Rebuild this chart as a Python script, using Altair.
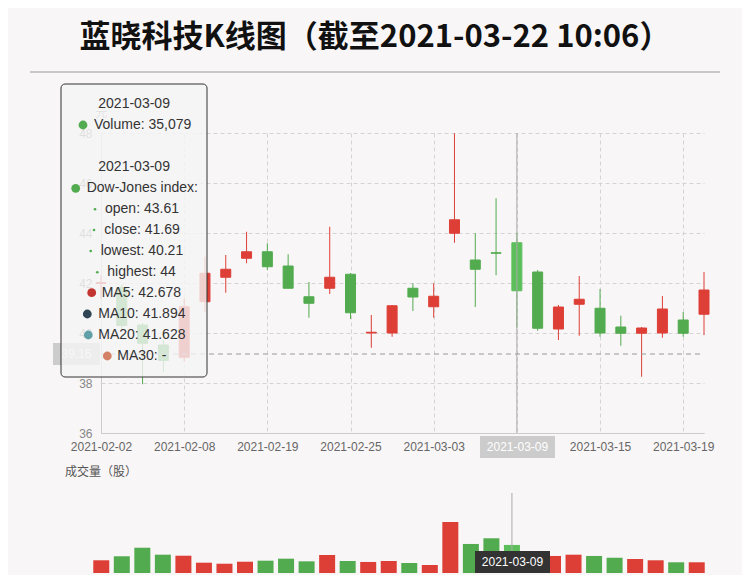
import altair as alt
import pandas as pd

# ---------------- data ----------------
dates = ["2021-02-02", "2021-02-03", "2021-02-04", "2021-02-05", "2021-02-08", "2021-02-09", "2021-02-10",
         "2021-02-18", "2021-02-19", "2021-02-22", "2021-02-23", "2021-02-24", "2021-02-25", "2021-02-26",
         "2021-03-01", "2021-03-02", "2021-03-03", "2021-03-04", "2021-03-05", "2021-03-08", "2021-03-09",
         "2021-03-10", "2021-03-11", "2021-03-12", "2021-03-15", "2021-03-16", "2021-03-17", "2021-03-18",
         "2021-03-19", "2021-03-22"]
opens = [41.98, 41.82, 40.32, 39.52, 39.03, 41.25, 42.23, 42.99, 43.25, 42.68,
         41.45, 41.79, 42.35, 40.00, 40.00, 41.79, 41.05, 43.99, 42.92, 43.21,
         43.61, 42.44, 40.16, 41.15, 40.99, 40.24, 39.99, 40.00, 40.52, 40.75]
closes = [42.02, 40.30, 39.59, 38.90, 41.05, 42.39, 42.55, 43.25, 42.65, 41.79,
          41.19, 42.23, 40.81, 40.03, 41.09, 41.44, 41.47, 44.53, 42.55, 43.19,
          41.69, 40.19, 41.04, 41.35, 40.00, 39.99, 40.20, 40.96, 39.99, 41.72]
lows = [41.35, 40.15, 37.95, 38.45, 38.85, 40.85, 41.61, 42.79, 42.52, 41.79,
        40.61, 41.56, 40.56, 39.41, 39.85, 40.88, 40.61, 43.61, 41.04, 42.31,
        40.21, 40.09, 39.72, 39.89, 39.85, 39.49, 38.25, 39.81, 39.85, 39.92]
highs = [42.30, 41.95, 40.40, 39.72, 41.39, 43.05, 43.12, 44.05, 43.59, 43.15,
         42.04, 44.25, 42.40, 40.72, 41.12, 41.99, 41.99, 47.99, 43.99, 45.39,
         44.00, 42.52, 41.12, 42.28, 41.76, 40.69, 40.24, 41.48, 40.84, 42.44]
volumes = [15900, 20900, 31600, 22900, 21600, 12900, 11600, 14100, 15400, 17900,
           14600, 22500, 15000, 13800, 15000, 12500, 10000, 63800, 36300, 43400,
           35079, 26000, 21300, 22900, 21300, 19100, 17500, 15900, 13400, 13400]
ma_names = ["MA5", "MA10", "MA20", "MA30"]
ma_values = ["42.678", "41.894", "41.628", "-"]
y_ticks = [36, 38, 40, 42, 44, 46, 48]
focus_date = "2021-03-09"
pointer_price = 39.16
title_text = "蓝晓科技K线图（截至2021-03-22 10:06）"
volume_title = "成交量（股）"
series_name = "Dow-Jones index"

# ---------------- styles ----------------
RED = "#dd3f37"
GREEN = "#52ab4f"
GREEN_HI = "#5dbf5b"
BG = "#f9f6f7"
FONT = "Liberation Sans"
CJK = "Noto Sans CJK SC"
MA_COLORS = ["#c23531", "#2f4554", "#61a0a8", "#d48265"]

fi = dates.index(focus_date)
n = len(dates)

rows = []
for i in range(n):
    up = closes[i] >= opens[i]
    col = RED if up else GREEN
    if i == fi:
        col = GREEN_HI if not up else col
    rows.append(dict(idx=i, date=dates[i], open=opens[i], close=closes[i],
                     low=lows[i], high=highs[i], volume=volumes[i], col=col))
df = pd.DataFrame(rows)
one = pd.DataFrame({"k": [0]})

label_expr = "[" + ",".join("'%s'" % d for d in dates) + "][datum.value]"

x_scale = alt.Scale(domain=[0, n - 1], nice=False, zero=False, padding=0)
y_scale = alt.Scale(domain=[36, 48], nice=False, zero=False, padding=0)
x_axis = alt.Axis(values=list(range(0, n, 4)), labelExpr=label_expr, title=None, grid=True,
                  gridDash=[4, 3], gridColor="#d4d4d4", domainColor="#cccccc", ticks=False,
                  labelColor="#666666", labelFontSize=12, labelPadding=8, labelFont=FONT,
                  labelFlush=False, labelOverlap=False)
y_axis = alt.Axis(values=y_ticks, title="元", titleAngle=0, titleX=0, titleY=-21, titleAlign="center",
                  titleBaseline="middle", titleColor="#999999", titleFontWeight="normal",
                  titleFontSize=12, titleFont=CJK, grid=True, gridDash=[4, 3], gridColor="#d4d4d4",
                  domainColor="#cccccc", ticks=False, labelColor="#888888", labelPadding=9,
                  labelFontSize=12, labelFont=FONT)


def X(field=None, datum=None):
    if datum is not None:
        return alt.X(datum=datum, type="quantitative", scale=x_scale, axis=x_axis)
    return alt.X(field, type="quantitative", scale=x_scale, axis=x_axis)


def Y(field=None, datum=None):
    if datum is not None:
        return alt.Y(datum=datum, type="quantitative", scale=y_scale, axis=y_axis)
    return alt.Y(field, type="quantitative", scale=y_scale, axis=y_axis)


base = alt.Chart(df)
wicks = base.mark_rule(strokeWidth=1).encode(
    x=X("idx"), y=Y("low"), y2=alt.Y2("high"), color=alt.Color("col:N", scale=None))
bodies = base.mark_bar(size=10, strokeWidth=1).encode(
    x=X("idx"), y=Y("open"), y2=alt.Y2("close"),
    color=alt.Color("col:N", scale=None), stroke=alt.Stroke("col:N", scale=None))
vline = alt.Chart(one).mark_rule(color="#aaaaaa", strokeWidth=1).encode(
    x=X(datum=fi), y=Y(datum=48), y2=alt.Y2(datum=36))
hline = alt.Chart(one).mark_rule(color="#999999", strokeWidth=1, strokeDash=[5, 4]).encode(
    x=X(datum=0), x2=alt.X2(datum=n - 1), y=Y(datum=pointer_price))
candle = alt.layer(wicks, bodies, vline, hline)

vx_scale = alt.Scale(domain=[-0.5, n - 0.5], range=[-10, 606], nice=False, zero=False, padding=0)
vy_scale = alt.Scale(domain=[0, 100000], range=[440, 360], nice=False, padding=0)
vbars = base.mark_bar(size=16).encode(
    x=alt.X("idx:Q", scale=vx_scale, axis=None),
    y=alt.Y("volume:Q", scale=vy_scale, axis=None),
    color=alt.Color("col:N", scale=None))
vvline = alt.Chart(one).mark_rule(color="#aaaaaa", strokeWidth=1).encode(
    x=alt.X(datum=fi, type="quantitative", scale=vx_scale, axis=None),
    y=alt.Y(datum=100000, type="quantitative", scale=vy_scale, axis=None),
    y2=alt.Y2(datum=0))
volume = alt.layer(vbars, vvline)


def box(x1, x2, y1, y2, **kw):
    return alt.Chart(one).mark_rect(**kw).encode(
        x=alt.value(x1), x2=alt.value(x2), y=alt.value(y1), y2=alt.value(y2))


def txt(text, x, y, **kw):
    return alt.Chart(one).mark_text(text=text, **kw).encode(x=alt.value(x), y=alt.value(y))


def dot(x, y, size, color):
    return alt.Chart(one).mark_circle(size=size, opacity=1, color=color).encode(
        x=alt.value(x), y=alt.value(y))


overlay = [
    # title + separator
    txt(title_text, 274, -95, font=CJK, fontSize=31, fontWeight="bold", color="#111111",
        align="center", baseline="middle"),
    alt.Chart(one).mark_rule(color="#c8c8c8", strokeWidth=2).encode(
        x=alt.value(-71), x2=alt.value(619), y=alt.value(-61)),
    # volume caption
    txt(volume_title, -36, 339, font=CJK, fontSize=12, color="#555555", align="left", baseline="middle"),
    # axis pointer labels
    box(-48, -1, 210, 232, fill="#cccccc"),
    txt("%.2f" % pointer_price, -24.5, 221, font=FONT, fontSize=12, color="#ffffff",
        align="center", baseline="middle"),
    box(379, 454, 303, 325, fill="#cccccc"),
    txt(focus_date, 416.5, 314, font=FONT, fontSize=12, color="#ffffff", align="center", baseline="middle"),
    box(374, 449, 418, 440, fill="#333333"),
    txt(focus_date, 411.5, 429, font=FONT, fontSize=12, color="#ffffff", align="center", baseline="middle"),
    # tooltip box
    box(-40, 106, -49, 244, fill="#f5f5f5", fillOpacity=0.8, stroke="#333333", strokeWidth=1,
        cornerRadius=4),
]

tfont = dict(font=FONT, fontSize=14, color="#333333", align="left", baseline="middle")
o, c, lo, hi = opens[fi], closes[fi], lows[fi], highs[fi]
fmt = lambda v: ("%g" % v)
tip_rows = [
    (focus_date, None, None, -2.7, -29, None),
    ("Volume: {:,}".format(volumes[fi]), -18, 78, -7, -8, GREEN),
    (focus_date, None, None, -2.7, 34.3, None),
    (series_name + ":", -25.3, 78, -14.3, 55.3, GREEN),
    ("open: " + fmt(o), -6, 7, 4, 76.3, GREEN),
    ("close: " + fmt(c), -7, 7, 3.3, 97, GREEN),
    ("lowest: " + fmt(lo), -10.3, 7, -0.3, 118, GREEN),
    ("highest: " + fmt(hi), -3.7, 7, 6.3, 139.3, GREEN),
]
ma_pos = [(-9.3, 0.7, 159.7), (-13.7, -2.7, 181), (-12.7, -2.7, 202), (6.3, 16.3, 223)]
for (name, val, colr, (dx, tx, ty)) in zip(ma_names, ma_values, MA_COLORS, ma_pos):
    tip_rows.append(("%s: %s" % (name, val), dx, 78, tx, ty, colr))

for text, dx, dsize, tx, ty, colr in tip_rows:
    if dx is not None:
        overlay.append(dot(dx, ty, dsize, colr))
    overlay.append(txt(text, tx, ty, **tfont))

chart = alt.layer(candle, volume, *overlay).resolve_scale(
    x="independent", y="independent"
).properties(
    width=603, height=300,
    autosize=alt.AutoSizeParams(type="none"),
    padding={"left": 93, "top": 125, "right": 38, "bottom": 142},
).configure(background=BG, font=FONT).configure_view(stroke=None)

chart.save("out.html", embed_options={"renderer": "svg", "actions": False})
